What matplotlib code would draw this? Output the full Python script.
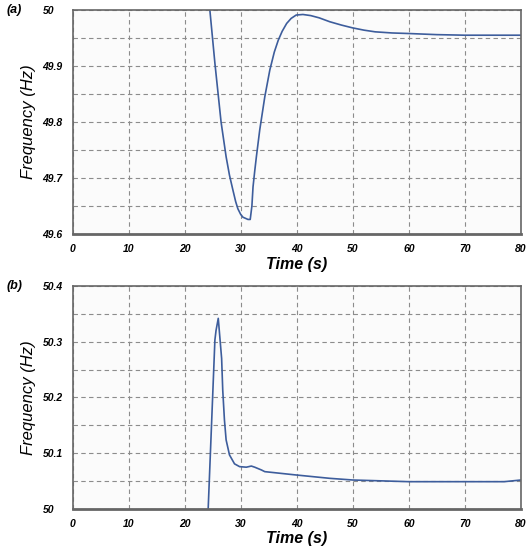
import numpy as np
import matplotlib.pyplot as plt

# panel (a): frequency dip
t_a = [24.5, 25.4, 26.5, 27.4, 28.0, 28.6, 29.1, 29.5, 30.0, 30.4, 31.3, 31.7,
       32.0, 32.2, 32.5, 32.8, 33.4, 34.3, 35.2, 36.0, 36.7, 37.4, 38.2, 39.0,
       39.9, 41.1, 42.5, 44.0, 45.9, 48.0, 50.0, 52.0, 54.0, 57.0, 60.0, 65.0,
       70.0, 75.0, 80.0]
f_a = [50.0, 49.905, 49.80, 49.738, 49.705, 49.679, 49.658, 49.645, 49.635, 49.630,
       49.626, 49.626, 49.650, 49.684, 49.712, 49.738, 49.786, 49.845, 49.893, 49.925,
       49.946, 49.962, 49.976, 49.985, 49.991, 49.992, 49.990, 49.986, 49.979, 49.973,
       49.968, 49.964, 49.961, 49.959, 49.958, 49.956, 49.955, 49.955, 49.955]

# panel (b): frequency rise
t_b = [24.2, 25.4, 25.6, 26.0, 26.6, 26.8, 27.1, 27.4, 28.0, 28.9, 29.8, 31.0,
       31.9, 32.5, 33.7, 34.3, 39.9, 45.9, 50.0, 60.0, 70.0, 77.0, 80.0]
f_b = [50.0, 50.303, 50.32, 50.342, 50.27, 50.213, 50.16, 50.124, 50.097, 50.081,
       50.076, 50.075, 50.077, 50.075, 50.070, 50.067, 50.061, 50.055, 50.052, 50.049,
       50.049, 50.049, 50.052]

x_ticks = [0, 10, 20, 30, 40, 50, 60, 70, 80]
yticks_a = [49.6, 49.7, 49.8, 49.9, 50.0]
ytick_labels_a = ['49.6', '49.7', '49.8', '49.9', '50']
yticks_b = [50.0, 50.1, 50.2, 50.3, 50.4]
ytick_labels_b = ['50', '50.1', '50.2', '50.3', '50.4']

plt.rcParams['font.family'] = ['Liberation Sans', 'DejaVu Sans']

W, H = 530, 550
fig = plt.figure(figsize=(W / 100, H / 100), dpi=100)

AX_L, AX_R = 72.5, 521


def make_axes(top, bottom):
    return fig.add_axes([AX_L / W, 1 - bottom / H, (AX_R - AX_L) / W, (bottom - top) / H])


def style(ax, t, f, yticks, ylabels, ylim, panel):
    ax.set_facecolor('#fbfbfb')
    ax.plot(t, f, color='#3d5d9c', lw=1.2, clip_on=True)
    ax.set_xlim(0, 80)
    ax.set_ylim(*ylim)
    ax.set_xticks(x_ticks)
    ax.set_xticklabels([str(v) for v in x_ticks], fontsize=7.5, fontweight='bold', fontstyle='italic')
    ax.set_yticks(yticks)
    ax.set_yticklabels(ylabels, fontsize=7.5, fontweight='bold', fontstyle='italic')
    for lab in ax.get_yticklabels():
        lab.set_ha('left')
    ax.set_yticks(np.arange(ylim[0], ylim[1] + 1e-9, 0.05), minor=True)
    ax.tick_params(axis='y', which='major', length=0, pad=21.5)
    ax.tick_params(axis='y', which='minor', length=0)
    ax.tick_params(axis='x', length=0, pad=7)
    ax.grid(True, which='both', axis='y', color='#8c8c8c', ls=(0, (4, 3)), lw=0.8)
    ax.grid(True, which='major', axis='x', color='#8c8c8c', ls=(0, (4, 3)), lw=0.8)
    for side in ['top', 'right', 'left']:
        ax.spines[side].set_color('#666666')
        ax.spines[side].set_linewidth(1.2)
    ax.spines['bottom'].set_color('#666666')
    ax.spines['bottom'].set_linewidth(2.0)
    ax.set_xlabel('Time (s)', fontsize=11.5, fontweight='bold', fontstyle='italic', labelpad=2)
    ax.set_ylabel('Frequency (Hz)', fontsize=12, fontstyle='italic')
    ax.yaxis.set_label_coords(-37 / (AX_R - AX_L), 0.5)
    ax.text(-66 / (AX_R - AX_L), 1.0, panel, transform=ax.transAxes, fontsize=9,
            fontweight='bold', fontstyle='italic', va='center', ha='left')


ax_a = make_axes(10, 234)
style(ax_a, t_a, f_a, yticks_a, ytick_labels_a, (49.6, 50.0), '(a)')

ax_b = make_axes(286, 509)
style(ax_b, t_b, f_b, yticks_b, ytick_labels_b, (50.0, 50.4), '(b)')

fig.savefig('out.png', dpi=100)
